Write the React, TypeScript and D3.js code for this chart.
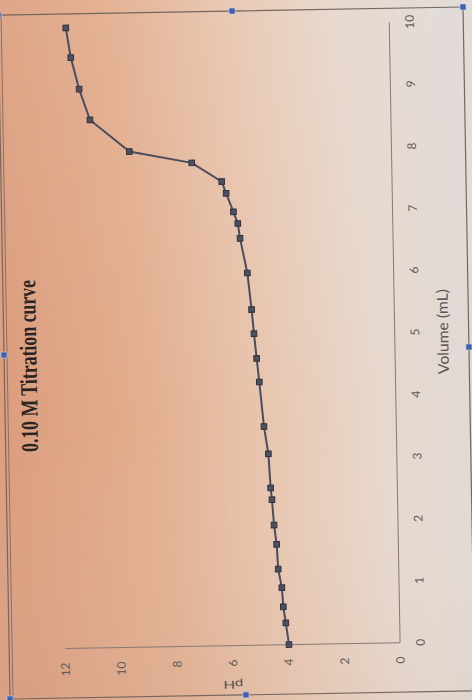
import React from "react";
import * as d3 from "d3";

const volumeML = [0, 0.35, 0.61, 0.92, 1.22, 1.62, 1.93, 2.34, 2.53, 3.08, 3.52, 4.24, 4.62, 5.02, 5.41, 6.0, 6.56, 6.8, 6.99, 7.29, 7.48, 7.79, 7.99, 8.51, 9.01, 9.52, 10.0];
const pHValues = [3.98, 4.08, 4.16, 4.2, 4.32, 4.36, 4.44, 4.5, 4.54, 4.6, 4.74, 4.88, 4.96, 5.04, 5.11, 5.24, 5.48, 5.55, 5.7, 5.95, 6.1, 7.16, 9.39, 10.78, 11.15, 11.43, 11.59];
const volumeTicks = [0, 1, 2, 3, 4, 5, 6, 7, 8, 9, 10];
const pHTicks = [0, 2, 4, 6, 8, 10, 12];
const chartTitle = "0.10 M Titration curve";
const xTitle = "Volume (mL)";
const yTitle = "pH";

export default function App() {
  const W = 472, H = 700;
  const vol = d3.scaleLinear().domain([0, 10]).range([645.5, 25]);
  const ph = d3.scaleLinear().domain([0, 12]).range([395, 60]);
  const data = volumeML.map((v, i) => ({ v, p: pHValues[i] }));
  const line = d3.line<{ v: number; p: number }>().x(d => ph(d.p)).y(d => vol(d.v));
  const handles: [number, number][] = [
    [4, 11], [238, 11], [469, 11], [4, 351], [469, 351], [4, 695], [240, 695], [469, 695],
  ];
  const tickFont = "Lato, 'Open Sans', sans-serif";
  return (
    <div style={{ position: "fixed", left: 0, top: 0, width: W, height: H }}>
      <svg width={W} height={H} style={{ display: "block" }}>
        <defs>
          <linearGradient id="bg" x1="0" y1="0.55" x2="1" y2="0.4">
            <stop offset="0" stopColor="#db9d7d" />
            <stop offset="0.3" stopColor="#e3ae8f" />
            <stop offset="0.55" stopColor="#e8c6b0" />
            <stop offset="0.78" stopColor="#e7d8cd" />
            <stop offset="1" stopColor="#e1dad6" />
          </linearGradient>
          <linearGradient id="shade" x1="0" y1="0" x2="0" y2="1">
            <stop offset="0" stopColor="#ffffff" stopOpacity="0.05" />
            <stop offset="0.6" stopColor="#ffffff" stopOpacity="0" />
            <stop offset="1" stopColor="#c8b8b0" stopOpacity="0.12" />
          </linearGradient>
        </defs>
        <rect x={0} y={0} width={W} height={H} fill="url(#bg)" />
        <rect x={0} y={0} width={W} height={H} fill="url(#shade)" />
        <g transform="rotate(-1 236 352)">
          {/* chart border */}
          <rect x={4} y={11} width={465} height={684} fill="none" stroke="#76665e" strokeWidth={1.2} />
          <line x1={7} y1={11} x2={7} y2={695} stroke="#8a6f68" strokeWidth={1} />
          {/* axes */}
          <line x1={ph(0)} y1={vol(0)} x2={ph(12)} y2={vol(0)} stroke="#857b74" strokeWidth={1} />
          <line x1={ph(0)} y1={vol(0)} x2={ph(0)} y2={vol(10)} stroke="#857b74" strokeWidth={1} />
          {/* volume tick labels */}
          {volumeTicks.map(t => (
            <text key={"v" + t} transform={`translate(419.5,${vol(t)}) rotate(-90)`} textAnchor="middle"
              fontFamily={tickFont} fontSize={12} fill="#625c59">{t}</text>
          ))}
          {/* pH tick labels */}
          {pHTicks.map(t => (
            <text key={"p" + t} transform={`translate(${ph(t) + 4.3},659.5) rotate(-90)`} textAnchor="end"
              fontFamily={tickFont} fontSize={12} fill="#625c59">{t}</text>
          ))}
          {/* axis titles */}
          <text transform={`translate(448.5,${vol(5)}) rotate(-90)`} textAnchor="middle"
            fontFamily={tickFont} fontSize={15} fill="#5a5452" textLength={85} lengthAdjust="spacingAndGlyphs">{xTitle}</text>
          <text transform={`translate(${(ph(0) + ph(12)) / 2},680.6) rotate(180)`} textAnchor="middle"
            fontFamily={tickFont} fontSize={11} fill="#5a5452" textLength={20} lengthAdjust="spacingAndGlyphs">{yTitle}</text>
          {/* title */}
          <text transform="translate(36.3,362.4) rotate(-90)" textAnchor="middle"
            fontFamily="'Liberation Serif', 'DejaVu Serif', serif" fontWeight="bold" fontSize={24} fill="#2a2422"
            textLength={172} lengthAdjust="spacingAndGlyphs">{chartTitle}</text>
          {/* series */}
          <path d={line(data) || ""} fill="none" stroke="#4a4e5c" strokeWidth={2} />
          {data.map((d, i) => (
            <rect key={i} x={ph(d.p) - 2.8} y={vol(d.v) - 2.8} width={5.6} height={5.6}
              fill="#4d5060" stroke="#2f3240" strokeWidth={1} />
          ))}
          {/* selection handles */}
          {handles.map(([x, y], i) => (
            <rect key={"h" + i} x={x - 3} y={y - 3} width={6} height={6} fill="#3f5fb3" stroke="#c9d3ee" strokeWidth={0.6} />
          ))}
        </g>
      </svg>
    </div>
  );
}
